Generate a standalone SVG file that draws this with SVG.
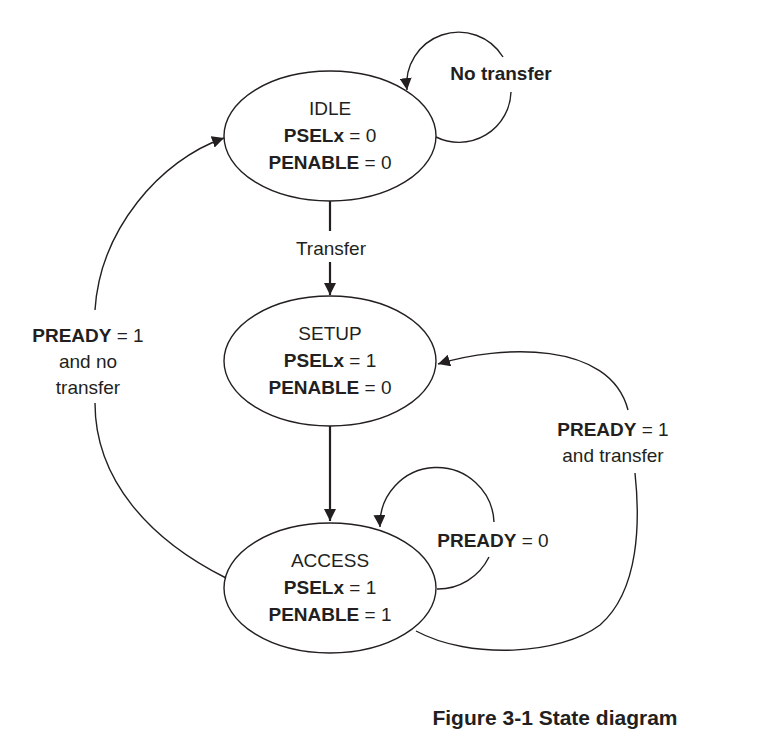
<svg xmlns="http://www.w3.org/2000/svg" width="758" height="748" viewBox="0 0 758 748">
<defs>
<style>
text{font-family:"Liberation Sans",Arial,sans-serif;font-size:19px;fill:#231f20;text-anchor:middle}
.b{font-weight:bold}
.st{fill:#fff;stroke:#231f20;stroke-width:1.4}
.c path{fill:none;stroke:#231f20;stroke-width:1.4}
.c .thick{stroke-width:2.2}
</style>
<marker id="ah" viewBox="0 0 10 10" refX="10" refY="5" markerWidth="12" markerHeight="12" markerUnits="userSpaceOnUse" orient="auto"><path d="M0,0L10,5L0,10z" fill="#231f20"/></marker>
</defs>
<rect width="758" height="748" fill="#fff"/>
<g id="idle"><ellipse class="st" cx="330" cy="136" rx="106" ry="65"/>
<text x="330" y="115">IDLE</text>
<text x="330" y="142"><tspan class="b">PSELx</tspan> = 0</text>
<text x="330" y="169"><tspan class="b">PENABLE</tspan> = 0</text></g>
<g id="setup"><ellipse class="st" cx="330" cy="361" rx="106" ry="65"/>
<text x="330" y="340">SETUP</text>
<text x="330" y="367"><tspan class="b">PSELx</tspan> = 1</text>
<text x="330" y="394"><tspan class="b">PENABLE</tspan> = 0</text></g>
<g id="access"><ellipse class="st" cx="330" cy="588" rx="106" ry="65"/>
<text x="330" y="567">ACCESS</text>
<text x="330" y="594"><tspan class="b">PSELx</tspan> = 1</text>
<text x="330" y="621"><tspan class="b">PENABLE</tspan> = 1</text></g>
<g class="c" id="connectors">
<path class="thick" d="M330,201V231"/>
<path class="thick" d="M330,262V295" marker-end="url(#ah)"/>
<path class="thick" d="M330,426V521" marker-end="url(#ah)"/>
<path d="M436,137A52,52 0 0 0 511,92"/>
<path d="M503,57A52,52 0 0 0 407,90" marker-end="url(#ah)"/>
<path d="M437,589A57,57 0 0 0 489,557"/>
<path d="M494,522A57,57 0 0 0 380,527" marker-end="url(#ah)"/>
<path d="M416,631C470,660 560,655 600,625C640,590 640,520 635,473"/>
<path d="M628,410C610,340 500,345 438,364" marker-end="url(#ah)"/>
<path d="M226,578C150,540 95,480 95,403"/>
<path d="M95,310C100,230 160,160 224,138" marker-end="url(#ah)"/>
</g>
<text class="b" x="501" y="80">No transfer</text>
<text x="331" y="255">Transfer</text>
<text x="88" y="342"><tspan class="b">PREADY</tspan> = 1</text>
<text x="88" y="368">and  no</text>
<text x="88" y="394">transfer</text>
<text x="613" y="436"><tspan class="b">PREADY</tspan> = 1</text>
<text x="613" y="462">and transfer</text>
<text x="493" y="547"><tspan class="b">PREADY</tspan> = 0</text>
<text class="b" x="555" y="725" style="font-size:21px">Figure 3-1 State diagram</text>
</svg>
